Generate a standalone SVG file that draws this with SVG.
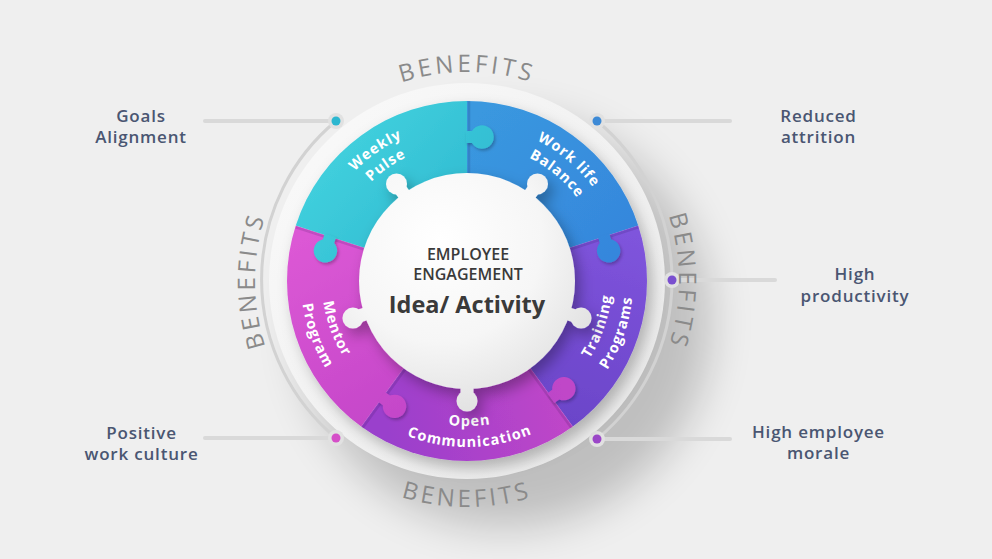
<svg xmlns="http://www.w3.org/2000/svg" width="992" height="559" viewBox="0 0 992 559">
<defs>
<style>
.lbl{font-family:"Open Sans","Noto Sans",sans-serif;font-weight:600;font-size:17px;fill:#4a5672;letter-spacing:0.8px;text-anchor:middle}
.ben{font-family:"Open Sans","Noto Sans",sans-serif;font-weight:400;font-size:24px;fill:#8a8a8a;letter-spacing:3.5px;text-anchor:middle}
.pz{font-family:"Open Sans","Noto Sans",sans-serif;font-weight:700;font-size:14.5px;fill:#ffffff;letter-spacing:1px;text-anchor:middle}
.ctr{font-family:"Open Sans","Noto Sans",sans-serif;fill:#3a3a3a;text-anchor:middle}
.cl{stroke:#d9d9d9;stroke-width:4;stroke-linecap:round;fill:none}
.arc{stroke:#d2d2d2;stroke-width:3;fill:none}
.halo{fill:#e1e1e1}
.seam{stroke:#1a1040;stroke-opacity:.14;stroke-width:2.5;fill:none}
.neck{stroke:url(#gWhite);stroke-width:13}
</style>
<linearGradient id="gCyan" gradientUnits="userSpaceOnUse" x1="300" y1="110" x2="470" y2="260"><stop offset="0" stop-color="#46d7e1"/><stop offset="1" stop-color="#2db6cf"/></linearGradient>
<linearGradient id="gBlue" gradientUnits="userSpaceOnUse" x1="480" y1="110" x2="630" y2="250"><stop offset="0" stop-color="#3a98df"/><stop offset="1" stop-color="#3586dc"/></linearGradient>
<linearGradient id="gTrain" gradientUnits="userSpaceOnUse" x1="620" y1="230" x2="560" y2="420"><stop offset="0" stop-color="#7f54dc"/><stop offset="1" stop-color="#6b45c9"/></linearGradient>
<linearGradient id="gOpen" gradientUnits="userSpaceOnUse" x1="390" y1="440" x2="565" y2="395"><stop offset="0" stop-color="#9a3fcc"/><stop offset="1" stop-color="#c046c8"/></linearGradient>
<linearGradient id="gMentor" gradientUnits="userSpaceOnUse" x1="300" y1="240" x2="400" y2="420"><stop offset="0" stop-color="#dc58d5"/><stop offset="1" stop-color="#c446c9"/></linearGradient>
<radialGradient id="gWhite" gradientUnits="userSpaceOnUse" cx="440" cy="240" r="170"><stop offset="0" stop-color="#ffffff"/><stop offset="0.6" stop-color="#f6f6f6"/><stop offset="1" stop-color="#e3e3e3"/></radialGradient>
<linearGradient id="gBand" x1="0" y1="0" x2="1" y2="1"><stop offset="0" stop-color="#fbfbfb"/><stop offset="1" stop-color="#e8e8e8"/></linearGradient>
<filter id="fBig" x="-50%" y="-50%" width="200%" height="200%"><feGaussianBlur stdDeviation="22"/></filter>
<filter id="fPuz" x="-20%" y="-20%" width="140%" height="140%"><feDropShadow dx="5" dy="7" stdDeviation="7" flood-color="#000" flood-opacity="0.25"/></filter>
<filter id="fCtr" x="-30%" y="-30%" width="160%" height="160%"><feDropShadow dx="5" dy="7" stdDeviation="7" flood-color="#000" flood-opacity="0.3"/></filter>
<filter id="fTab" x="-50%" y="-50%" width="200%" height="200%"><feDropShadow dx="1.5" dy="2" stdDeviation="1.5" flood-color="#000" flood-opacity="0.25"/></filter>
<path id="pBenTop" d="M332.7,120.9 A209,209 0 0 1 601.3,120.9"/>
<path id="pBenLeft" d="M304.6,417.3 A212,212 0 0 1 304.6,144.7"/>
<path id="pBenRight" d="M629.4,144.7 A212,212 0 0 1 629.4,417.3"/>
<path id="pBenBot" d="M321.7,454.1 A226,226 0 0 0 612.3,454.1"/>
<path id="pWeekly" d="M312.4,253.7 A157,157 0 0 1 494.3,126.4"/>
<path id="pPulse" d="M331.1,257 A138,138 0 0 1 491,145.1"/>
<path id="pWork" d="M453.3,124.6 A157,157 0 0 1 623.4,267.3"/>
<path id="pBal" d="M455,143.5 A138,138 0 0 1 604.5,269"/>
<path id="pTrain" d="M530.6,411.3 A145,145 0 0 0 597.3,217.4"/>
<path id="pProgs" d="M539.8,430.2 A166,166 0 0 0 616.2,208.2"/>
<path id="pOpen" d="M366.3,385.3 A145,145 0 0 0 571.3,381.7"/>
<path id="pComm" d="M351.7,400.4 A166,166 0 0 0 586.4,396.3"/>
<path id="pMentor" d="M335.6,219.7 A145,145 0 0 0 405.7,412.4"/>
<path id="pProg" d="M316.6,210.8 A166,166 0 0 0 396.8,431.4"/>
</defs>

<rect width="992" height="559" fill="#efefef"/>
<circle cx="505" cy="322" r="205" fill="#000" opacity="0.2" filter="url(#fBig)"/>
<circle cx="467" cy="281" r="198" fill="url(#gBand)"/>

<g id="connectors">
<path class="arc" d="M336,121 A206,206 0 0 0 336,438"/>
<path class="arc" d="M597,121 A206,206 0 0 1 597,439"/>
<line class="cl" x1="205" y1="121" x2="336" y2="121"/>
<line class="cl" x1="597" y1="121" x2="730" y2="121"/>
<line class="cl" x1="672" y1="280" x2="775" y2="280"/>
<line class="cl" x1="597" y1="439" x2="730" y2="439"/>
<line class="cl" x1="205" y1="438" x2="336" y2="438"/>
<circle class="halo" cx="336" cy="121" r="8"/><circle cx="336" cy="121" r="4.5" fill="#2cb7d0"/>
<circle class="halo" cx="597" cy="121" r="8"/><circle cx="597" cy="121" r="4.5" fill="#3d8ad6"/>
<circle class="halo" cx="672" cy="280" r="8"/><circle cx="672" cy="280" r="4.5" fill="#7a4fcf"/>
<circle class="halo" cx="597" cy="439" r="8"/><circle cx="597" cy="439" r="4.5" fill="#9b46c8"/>
<circle class="halo" cx="336" cy="438" r="8"/><circle cx="336" cy="438" r="4.5" fill="#d54fc8"/>
</g>

<g id="benefits">
<text class="ben"><textPath href="#pBenTop" startOffset="50%">BENEFITS</textPath></text>
<text class="ben"><textPath href="#pBenLeft" startOffset="50%">BENEFITS</textPath></text>
<text class="ben"><textPath href="#pBenRight" startOffset="50%">BENEFITS</textPath></text>
<text class="ben"><textPath href="#pBenBot" startOffset="50%">BENEFITS</textPath></text>
</g>

<g id="puzzle" filter="url(#fPuz)">
<path id="node-worklife" d="M467,281 L467,101 A180,180 0 0 1 638.2,225.4 Z" fill="url(#gBlue)"/>
<path id="node-training" d="M467,281 L638.2,225.4 A180,180 0 0 1 572.8,426.6 Z" fill="url(#gTrain)"/>
<path id="node-open" d="M467,281 L572.8,426.6 A180,180 0 0 1 361.2,426.6 Z" fill="url(#gOpen)"/>
<path id="node-mentor" d="M467,281 L361.2,426.6 A180,180 0 0 1 295.8,225.4 Z" fill="url(#gMentor)"/>
<path id="node-weekly" d="M467,281 L295.8,225.4 A180,180 0 0 1 467,101 Z" fill="url(#gCyan)"/>
<g id="seams">
<line class="seam" x1="469" y1="173" x2="469" y2="101"/>
<line class="seam" x1="569.7" y1="249.6" x2="638.2" y2="227.4"/>
<line class="seam" x1="529" y1="369.5" x2="571.3" y2="427.7"/>
<line class="seam" x1="405" y1="369.5" x2="362.7" y2="427.7"/>
<line class="seam" x1="364.3" y1="249.6" x2="295.8" y2="227.4"/>
</g>
<g id="tabs" filter="url(#fTab)">
<path d="M466,143 L472,143 A11.7,11.7 0 1 0 472,131 L466,131 Z" fill="url(#gCyan)"/>
<path d="M597.94,237.41 L599.80,243.12 A11.7,11.7 0 1 0 611.21,239.41 L609.36,233.70 Z" fill="url(#gBlue)"/>
<path d="M547.31,393.23 L552.17,389.70 A11.7,11.7 0 1 1 559.22,399.41 L554.36,402.94 Z" fill="url(#gOpen)"/>
<path d="M385.07,392.05 L389.93,395.58 A11.7,11.7 0 1 1 382.88,405.29 L378.02,401.76 Z" fill="url(#gMentor)"/>
<path d="M336.06,237.41 L334.21,243.12 A11.7,11.7 0 1 1 322.79,239.41 L324.64,233.70 Z" fill="url(#gCyan)"/>
</g>
</g>

<g id="piece-labels">
<text class="pz"><textPath href="#pWeekly" startOffset="50%">Weekly</textPath></text>
<text class="pz"><textPath href="#pPulse" startOffset="50%">Pulse</textPath></text>
<text class="pz"><textPath href="#pWork" startOffset="50%">Work life</textPath></text>
<text class="pz"><textPath href="#pBal" startOffset="50%">Balance</textPath></text>
<text class="pz"><textPath href="#pTrain" startOffset="50%">Training</textPath></text>
<text class="pz"><textPath href="#pProgs" startOffset="50%">Programs</textPath></text>
<text class="pz"><textPath href="#pOpen" startOffset="50%">Open</textPath></text>
<text class="pz"><textPath href="#pComm" startOffset="50%">Communication</textPath></text>
<text class="pz"><textPath href="#pMentor" startOffset="50%">Mentor</textPath></text>
<text class="pz"><textPath href="#pProg" startOffset="50%">Program</textPath></text>
</g>

<g id="node-center">
<g filter="url(#fCtr)">
<line class="neck" x1="467" y1="381" x2="467" y2="396"/>
<line class="neck" x1="562.1" y1="311.9" x2="576.4" y2="316.5"/>
<line class="neck" x1="525.8" y1="200.1" x2="534.6" y2="188"/>
<line class="neck" x1="408.2" y1="200.1" x2="399.4" y2="188"/>
<line class="neck" x1="371.9" y1="311.9" x2="357.6" y2="316.5"/>
<circle cx="467" cy="401" r="10.5" fill="url(#gWhite)"/>
<circle cx="581.1" cy="318.1" r="10.5" fill="url(#gWhite)"/>
<circle cx="537.5" cy="183.9" r="10.5" fill="url(#gWhite)"/>
<circle cx="396.5" cy="183.9" r="10.5" fill="url(#gWhite)"/>
<circle cx="352.9" cy="318.1" r="10.5" fill="url(#gWhite)"/>
<circle cx="467" cy="281" r="108" fill="url(#gWhite)"/>
</g>
<text class="ctr" x="468" y="260" font-size="16" font-weight="600">EMPLOYEE</text>
<text class="ctr" x="468" y="280" font-size="16" font-weight="600">ENGAGEMENT</text>
<text class="ctr" x="467" y="313" font-size="23.5" font-weight="700">Idea/ Activity</text>
</g>

<g id="node-goals"><text class="lbl" x="141" y="122">Goals</text><text class="lbl" x="141" y="143">Alignment</text></g>
<g id="node-reduced"><text class="lbl" x="818.5" y="122">Reduced</text><text class="lbl" x="818.5" y="143">attrition</text></g>
<g id="node-productivity"><text class="lbl" x="855" y="280">High</text><text class="lbl" x="855" y="302">productivity</text></g>
<g id="node-morale"><text class="lbl" x="818.5" y="438">High employee</text><text class="lbl" x="818.5" y="459">morale</text></g>
<g id="node-culture"><text class="lbl" x="141.5" y="439">Positive</text><text class="lbl" x="141.5" y="460">work culture</text></g>
</svg>
